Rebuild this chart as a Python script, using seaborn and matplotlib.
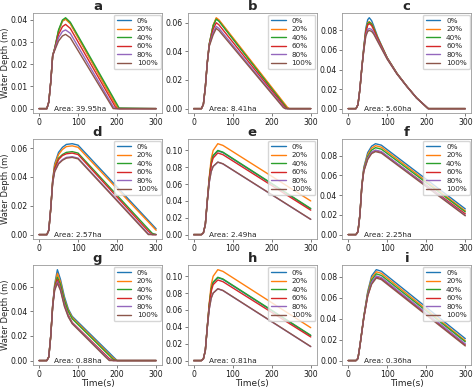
import pandas as pd
import seaborn as sns
import matplotlib.pyplot as plt
from matplotlib.ticker import MultipleLocator, FormatStrFormatter

# legend levels and panel labels
levels = ["0%", "20%", "40%", "60%", "80%", "100%"]
panels = ["a", "b", "c", "d", "e", "f", "g", "h", "i"]
areas = ["39.95", "8.41", "5.60", "2.57", "2.49", "2.25", "0.88", "0.81", "0.36"]

# panel a
t_a = [0, 20, 25, 30, 35, 40, 50, 60, 68, 80, 190, 195, 200, 205, 300]
d_a = [
    [0, 0, .003, .012, .024, .027, .035, .0395, .0405, .0385, .0041, .0025, .0009, 0, 0],
    [0, 0, .003, .012, .024, .027, .035, .0395, .0403, .0383, .0038, .0023, .0008, 0, 0],
    [0, 0, .003, .012, .024, .0272, .0355, .040, .041, .039, .005, .0034, .0019, .0003, 0],
    [0, 0, .003, .012, .024, .0268, .0335, .037, .038, .0362, .0025, .0009, 0, 0, 0],
    [0, 0, .003, .012, .024, .0265, .032, .0348, .0355, .034, .0009, 0, 0, 0, 0],
    [0, 0, .003, .012, .024, .0262, .0305, .0328, .0335, .032, 0, 0, 0, 0, 0],
]

# panel b
t_b = [0, 20, 25, 30, 35, 40, 50, 58, 65, 230, 235, 240, 245, 300]
d_b = [
    [0, 0, .003, .015, .032, .045, .058, .063, .0615, .0038, .0021, .0004, 0, 0],
    [0, 0, .003, .015, .032, .045, .0583, .0635, .062, .0045, .0028, .001, 0, 0],
    [0, 0, .003, .015, .032, .045, .0578, .0625, .061, .0035, .0017, 0, 0, 0],
    [0, 0, .003, .015, .032, .0445, .0555, .060, .0585, .0024, .0007, 0, 0, 0],
    [0, 0, .003, .015, .032, .044, .053, .0575, .056, .0013, 0, 0, 0, 0],
    [0, 0, .003, .015, .032, .0435, .0515, .056, .0545, .0007, 0, 0, 0, 0],
]

# panel c
t_c = [0, 20, 25, 30, 35, 40, 45, 50, 54, 60, 65, 75, 100, 125, 150, 175, 205, 300]
d_c = [
    [0, 0, .004, .02, .042, .063, .082, .091, .093, .09, .085, .074, .052, .036, .023, .011, 0, 0],
    [0, 0, .004, .02, .042, .062, .080, .088, .089, .087, .083, .073, .052, .036, .023, .011, 0, 0],
    [0, 0, .004, .02, .042, .062, .079, .087, .0885, .0865, .0825, .0725, .0518, .036, .023, .011, 0, 0],
    [0, 0, .004, .02, .042, .061, .078, .0855, .087, .085, .081, .072, .0515, .0358, .023, .011, 0, 0],
    [0, 0, .004, .02, .042, .06, .075, .081, .082, .081, .078, .070, .051, .0355, .0228, .011, 0, 0],
    [0, 0, .004, .02, .042, .0595, .074, .079, .080, .079, .0765, .069, .0505, .0353, .0227, .011, 0, 0],
]

# panel d
t_d = [0, 20, 25, 30, 35, 40, 50, 60, 70, 85, 100, 270, 280, 290, 300]
d_d = [
    [0, 0, .003, .018, .038, .049, .057, .0605, .0625, .063, .062, .0127, .0098, .0069, .004],
    [0, 0, .003, .018, .038, .048, .0555, .059, .061, .0615, .0605, .0116, .0088, .0059, .003],
    [0, 0, .003, .018, .037, .046, .053, .0555, .057, .0575, .0565, .0067, .0038, .0009, 0],
    [0, 0, .003, .018, .037, .0455, .052, .0548, .056, .0565, .0555, .0053, .0024, 0, 0],
    [0, 0, .003, .018, .036, .044, .0495, .052, .0535, .054, .053, .0035, .0006, 0, 0],
    [0, 0, .003, .018, .036, .0435, .049, .0515, .053, .0535, .0525, .0029, 0, 0, 0],
]

# panel e
t_e = [0, 20, 25, 30, 35, 40, 45, 50, 62, 75, 300]
d_e = [
    [0, 0, .002, .012, .04, .066, .085, .0935, .0995, .0975, .0305],
    [0, 0, .002, .012, .04, .068, .09, .10, .108, .106, .040],
    [0, 0, .002, .012, .04, .066, .085, .094, .100, .098, .031],
    [0, 0, .002, .012, .04, .065, .083, .091, .097, .095, .029],
    [0, 0, .002, .012, .039, .062, .075, .081, .086, .084, .018],
    [0, 0, .002, .012, .039, .062, .075, .081, .0862, .0842, .0182],
]

# panel f
t_f = [0, 20, 25, 30, 35, 40, 50, 60, 70, 85, 300]
d_f = [
    [0, 0, .003, .02, .05, .068, .083, .0895, .092, .0905, .026],
    [0, 0, .003, .02, .05, .067, .081, .0875, .090, .0885, .024],
    [0, 0, .003, .02, .05, .066, .079, .0855, .088, .0865, .023],
    [0, 0, .003, .02, .049, .065, .077, .083, .085, .0835, .021],
    [0, 0, .003, .02, .049, .065, .0775, .0835, .0855, .084, .0195],
    [0, 0, .003, .02, .049, .064, .076, .082, .084, .0825, .019],
]

# panel g
t_g = [0, 20, 25, 30, 35, 40, 47, 55, 65, 75, 85, 170, 180, 190, 200, 300]
d_g = [
    [0, 0, .003, .02, .045, .062, .074, .066, .052, .042, .036, .0094, .0063, .0031, 0, 0],
    [0, 0, .003, .02, .045, .061, .071, .064, .050, .041, .035, .0082, .005, .0019, 0, 0],
    [0, 0, .003, .02, .045, .06, .068, .062, .049, .040, .034, .0072, .0041, .0009, 0, 0],
    [0, 0, .003, .02, .045, .059, .066, .059, .046, .037, .031, .0047, .0016, 0, 0, 0],
    [0, 0, .003, .02, .044, .058, .064, .058, .045, .036, .0305, .0038, .0006, 0, 0, 0],
    [0, 0, .003, .02, .044, .057, .063, .057, .044, .0355, .030, .003, 0, 0, 0, 0],
]

# panel h
t_h = [0, 20, 25, 30, 35, 40, 45, 50, 62, 75, 300]
d_h = [
    [0, 0, .002, .012, .04, .066, .085, .0925, .0983, .0963, .0295],
    [0, 0, .002, .012, .04, .068, .09, .10, .1078, .1058, .039],
    [0, 0, .002, .012, .04, .066, .085, .093, .0988, .0968, .030],
    [0, 0, .002, .012, .04, .065, .082, .090, .0956, .0936, .028],
    [0, 0, .002, .012, .039, .061, .074, .080, .085, .083, .0165],
    [0, 0, .002, .012, .039, .061, .074, .080, .0852, .0832, .0167],
]

# panel i
t_i = [0, 20, 25, 30, 40, 50, 60, 72, 85, 300]
d_i = [
    [0, 0, .002, .014, .042, .066, .081, .087, .0855, .021],
    [0, 0, .002, .014, .042, .065, .079, .085, .0835, .019],
    [0, 0, .002, .014, .042, .064, .077, .083, .0815, .018],
    [0, 0, .002, .014, .041, .062, .074, .080, .0785, .015],
    [0, 0, .002, .014, .041, .063, .075, .081, .0795, .016],
    [0, 0, .002, .014, .041, .062, .073, .079, .0775, .014],
]

times = [t_a, t_b, t_c, t_d, t_e, t_f, t_g, t_h, t_i]
depths = [d_a, d_b, d_c, d_d, d_e, d_f, d_g, d_h, d_i]
ysteps = [0.01, 0.02, 0.02, 0.02, 0.02, 0.02, 0.02, 0.02, 0.02]

sns.set_style("ticks")
plt.rcParams["axes.edgecolor"] = "0.6"
plt.rcParams["axes.linewidth"] = 0.6

fig, axes = plt.subplots(3, 3, figsize=(4.74, 3.88), dpi=100)
fig.subplots_adjust(left=0.07, right=0.994, top=0.966, bottom=0.059,
                    wspace=0.2, hspace=0.26)

for k, ax in enumerate(axes.flat):
    rows = []
    for lev, d in zip(levels, depths[k]):
        for t, v in zip(times[k], d):
            rows.append((t, v, lev))
    df = pd.DataFrame(rows, columns=["Time", "Depth", "Level"])
    sns.lineplot(data=df, x="Time", y="Depth", hue="Level", hue_order=levels,
                 palette=sns.color_palette("tab10", 6), lw=1, sort=False, ax=ax)

    ax.set_xticks([0, 100, 200, 300])
    ax.yaxis.set_major_locator(MultipleLocator(ysteps[k]))
    ax.yaxis.set_major_formatter(FormatStrFormatter("%.2f"))
    ax.tick_params(labelsize=5.6, length=2.5, width=0.6, pad=1.2, colors="0.4",
                   labelcolor="0.1")
    ax.set_title(panels[k], fontweight="bold", fontsize=9.5, pad=2)
    ax.text(0.165, 0.025, "Area: " + areas[k] + "ha", transform=ax.transAxes,
            fontsize=5.3)
    ax.legend(loc="upper right", fontsize=5.2, labelspacing=0.35, handlelength=2.0,
              handletextpad=0.8, borderpad=0.4, borderaxespad=0.2,
              framealpha=0.8, edgecolor="0.8")

    if k % 3 == 0:
        ax.set_ylabel("Water Depth (m)", fontsize=6, labelpad=0.5)
    else:
        ax.set_ylabel("")
    if k >= 6:
        ax.set_xlabel("Time(s)", fontsize=6.5, labelpad=0)
    else:
        ax.set_xlabel("")

fig.savefig("out.png", dpi=100)
